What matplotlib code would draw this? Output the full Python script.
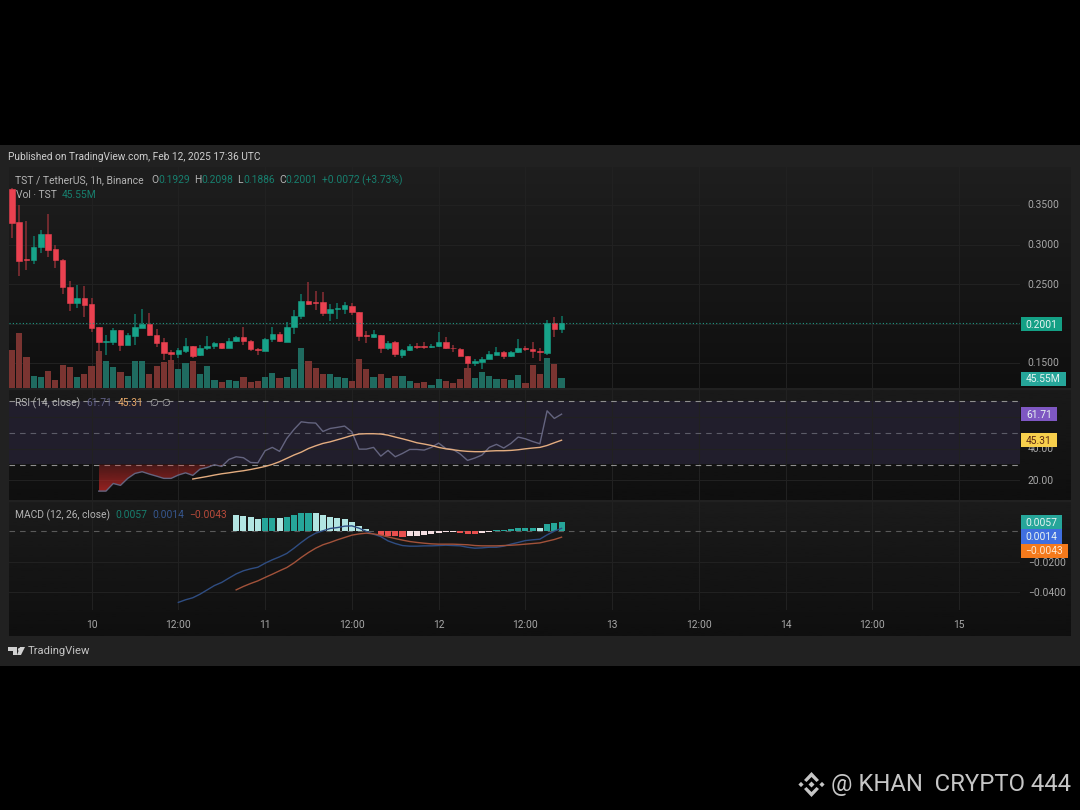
import matplotlib
matplotlib.use('Agg')
import matplotlib.pyplot as plt
import numpy as np
from matplotlib.patches import Rectangle, Polygon

plt.rcParams['font.family'] = ['Roboto', 'DejaVu Sans']

# --- Data (one entry per hourly candle, from Feb 9 13:00) ---
opens = [.3698, .3281, .2817, .2804, .2973, .3133, .2943, .2808, .2466, .2264, .2327, .2243, .1956, .1770, .1770, .1913,
         .1728, .1846, .1947, .1998, .1854, .1762, .1635, .1614, .1656, .1711, .1597, .1686, .1715, .1749, .1694, .1774,
         .1829, .1778, .1677, .1656, .1808, .1863, .1770, .1956, .2099, .2289, .2268, .2268, .2129, .2179, .2188, .2226,
         .2146, .1850, .1825, .1859, .1686, .1762, .1605, .1660, .1715, .1715, .1702, .1715, .1770, .1694, .1681, .1593,
         .1504, .1517, .1555, .1605, .1639, .1589, .1639, .1694, .1677, .1656, .1631, .2011, .1929]
highs = [.3711, .3500, .3298, .3112, .3184, .3382, .2994, .2812, .2538, .2487, .2471, .2319, .1960, .1854, .1947, .1918,
         .1876, .2120, .2184, .2137, .1926, .1812, .1665, .1686, .1821, .1715, .1728, .1846, .1770, .1757, .1812, .1846,
         .1951, .1791, .1694, .1821, .1960, .1897, .2015, .2171, .2369, .2521, .2411, .2395, .2247, .2264, .2276, .2255,
         .2150, .1901, .1918, .1859, .1778, .1774, .1673, .1736, .1749, .1770, .1740, .1888, .1833, .1728, .1690, .1593,
         .1555, .1572, .1656, .1698, .1648, .1652, .1800, .1715, .1762, .1686, .2044, .2087, .2098]
lows = [.3087, .2606, .2677, .2749, .2888, .2846, .2707, .2369, .2162, .2192, .2087, .1888, .1622, .1601, .1728, .1652,
        .1724, .1728, .1939, .1846, .1707, .1538, .1454, .1567, .1622, .1559, .1589, .1665, .1677, .1677, .1686, .1762,
        .1728, .1656, .1601, .1652, .1762, .1762, .1770, .1863, .2057, .2234, .2171, .2095, .2036, .2057, .2116, .2108,
        .1778, .1749, .1812, .1631, .1665, .1576, .1563, .1648, .1673, .1673, .1694, .1698, .1673, .1643, .1589, .1432,
        .1462, .1424, .1546, .1597, .1555, .1572, .1631, .1656, .1559, .1529, .1601, .1833, .1886]
closes = [.3272, .2795, .2804, .2973, .3129, .2935, .2804, .2458, .2264, .2327, .2238, .1943, .1762, .1778, .1918, .1728,
          .1850, .1956, .1998, .1854, .1757, .1631, .1618, .1660, .1711, .1589, .1686, .1715, .1749, .1694, .1774, .1829,
          .1783, .1673, .1660, .1808, .1863, .1778, .1956, .2099, .2289, .2243, .2264, .2129, .2179, .2196, .2230, .2141,
          .1838, .1846, .1863, .1686, .1757, .1610, .1665, .1715, .1707, .1707, .1719, .1766, .1690, .1686, .1593, .1504,
          .1525, .1555, .1614, .1639, .1589, .1639, .1690, .1673, .1652, .1639, .2011, .1930, .2001]
volumes = [172, 251, 141, 56, 49, 76, 35, 106, 94, 52, 62, 102, 169, 122, 94, 71, 55, 125, 125, 65, 102, 120, 129, 88,
           116, 125, 64, 99, 35, 26, 35, 30, 49, 26, 32, 49, 68, 46, 49, 88, 184, 125, 90, 62, 65, 52, 46, 32, 134, 88,
           49, 62, 44, 55, 55, 32, 23, 26, 15, 41, 32, 24, 41, 93, 44, 74, 56, 40, 43, 35, 59, 24, 103, 65, 137, 109, 45.55]

rsi = [13.3, 13.3, 18.1, 16.9, 21.3, 24.4, 25.5, 24.0, 22.7, 21.3, 21.3, 23.4, 24.8, 23.2, 27.1, 28.2, 29.9, 28.8, 33.2,
       34.9, 34.3, 31.3, 31.1, 38.7, 40.8, 38.3, 46.4, 52.1, 56.9, 56.3, 56.1, 50.8, 52.7, 53.4, 54.2, 50.6, 39.7, 39.7,
       40.8, 35.3, 38.9, 34.9, 37.0, 39.5, 39.5, 39.1, 40.8, 43.5, 40.1, 39.5, 36.6, 32.6, 34.1, 36.0, 40.8, 42.7, 40.4,
       43.3, 47.3, 46.2, 44.5, 43.1, 63.8, 59.0, 61.71]
rsi_ma = [20.9, 21.7, 22.5, 23.4, 24.2, 24.8, 25.5, 26.1, 26.9, 27.8, 28.8, 30.1, 31.8, 33.9, 36.0, 37.8, 40.1, 41.8,
          43.3, 44.3, 45.6, 46.9, 48.3, 49.2, 49.4, 49.4, 49.2, 48.5, 47.3, 46.2, 45.0, 43.7, 42.9, 42.0, 40.8, 39.9,
          39.3, 38.7, 38.3, 38.1, 38.1, 38.5, 38.7, 38.7, 38.9, 39.3, 39.9, 40.4, 40.8, 42.0, 43.7, 45.31]

macd = [-.0464, -.0447, -.0434, -.0411, -.0383, -.0355, -.0335, -.0307, -.0280, -.0260, -.0247, -.0237, -.0211, -.0189,
        -.0170, -.0148, -.0114, -.0077, -.0043, -.0017, -.0002, .0013, .0019, .0028, .0030, .0015, -.0006, -.0024,
        -.0039, -.0067, -.0084, -.0097, -.0101, -.0101, -.0099, -.0099, -.0097, -.0095, -.0097, -.0099, -.0108, -.0114,
        -.0112, -.0108, -.0108, -.0101, -.0088, -.0077, -.0065, -.0060, -.0056, -.0028, -.0004, .0014]
signal = [-.0383, -.0361, -.0342, -.0325, -.0303, -.0282, -.0260, -.0239, -.0209, -.0174, -.0142, -.0114, -.0092, -.0077,
          -.0060, -.0045, -.0030, -.0022, -.0017, -.0022, -.0030, -.0041, -.0052, -.0062, -.0071, -.0077, -.0082, -.0086,
          -.0088, -.0088, -.0088, -.0090, -.0092, -.0097, -.0099, -.0099, -.0099, -.0097, -.0095, -.0092, -.0088, -.0084,
          -.0080, -.0069, -.0058, -.0043]
hist = [.0097, .0095, .0086, .0077, .0080, .0082, .0080, .0086, .0097, .0110, .0116, .0112, .0099, .0088, .0080, .0073,
        .0058, .0032, .0011, -.0006, -.0030, -.0034, -.0037, -.0041, -.0037, -.0034, -.0028, -.0022, -.0013, -.0009,
        -.0009, -.0013, -.0022, -.0024, -.0017, -.0009, .0001, .0004, .0011, .0015, .0019, .0019, .0017, .0041, .0049,
        .0057]

RSI_START = 12
RSI_MA_START = 25
MACD_START = 23
SIGNAL_START = 31

date_ticks = [11, 23, 35, 47, 59, 71, 83, 95, 107, 119, 131]
date_labels = ['10', '12:00', '11', '12:00', '12', '12:00', '13', '12:00', '14', '12:00', '15']
price_ticks = [0.15, 0.20, 0.25, 0.30, 0.35]
rsi_ticks = [20, 40, 60]
macd_ticks = [-0.04, -0.02]

# --- Colours ---
UP = '#17a389'
DOWN = '#ea4150'
UP_WICK = '#0f7565'
DOWN_WICK = '#8a2f35'
UP_VOL = '#1f6b60'
DOWN_VOL = '#7a3431'
GRID = '#212121'
TICK = '#a8a8a8'
LEGEND = '#b4b4b4'
TEAL_TXT = '#177f6e'

W, H = 1080, 810
fig = plt.figure(figsize=(W / 100, H / 100), dpi=100, facecolor='black')


def pane(x0, y0, x1, y1, z=2):
    ax = fig.add_axes([x0 / W, 1 - y1 / H, (x1 - x0) / W, (y1 - y0) / H], zorder=z)
    ax.patch.set_alpha(0)
    ax.set_xlim(-0.415, 139.4)
    for s in ax.spines.values():
        s.set_visible(False)
    ax.set_xticks(date_ticks)
    ax.set_xticklabels([])
    ax.tick_params(length=0, labelleft=False)
    ax.grid(True, color=GRID, lw=0.8)
    ax.set_axisbelow(True)
    return ax


# page layers in pixel coordinates
bg = fig.add_axes([0, 0, 1, 1], zorder=0)
bg.set_axis_off()
ov = fig.add_axes([0, 0, 1, 1], zorder=10)
ov.set_axis_off()
ov.patch.set_alpha(0)

bg.add_patch(Rectangle((0, 145), W, 521, color='#212121', lw=0))


def gradient(y0, y1, top, bottom):
    g = np.linspace(top, bottom, 64).reshape(-1, 1)
    bg.imshow(g, extent=(9, 1071, y1, y0), cmap='gray', vmin=0, vmax=255, aspect='auto', zorder=1)


gradient(167, 388, 30, 15)
gradient(390, 500, 26, 15)
gradient(502, 636, 27, 15)
bg.set_xlim(0, W)
bg.set_ylim(H, 0)
ov.set_xlim(0, W)
ov.set_ylim(H, 0)
# purple RSI background band
bg.add_patch(Rectangle((9, 401), 1011, 63, color='#211e2c', lw=0, zorder=2))

# --- Main pane ---
ax = pane(9, 167, 1020, 388)
ax.set_ylim(0.1184, 0.3981)
ax.set_yticks(price_ticks)
x = np.arange(len(closes))
o, h, l, c = map(np.array, (opens, highs, lows, closes))
up = c >= o
ax.vlines(x, l, h, colors=[UP_WICK if u else DOWN_WICK for u in up], lw=1.1, zorder=3)
ax.bar(x, np.abs(c - o), bottom=np.minimum(o, c), width=0.76, color=[UP if u else DOWN for u in up],
       edgecolor=[UP if u else DOWN for u in up], lw=0.4, zorder=4)
ax.axhline(closes[-1], color='#1f9c87', lw=0.8, ls=(0, (1, 2)), zorder=5)

vax = ax.twinx()
vax.set_position(ax.get_position())
vax.set_ylim(0, 1008)
vax.set_axis_off()
vax.bar(x, volumes, width=0.86, color=[UP_VOL if u else DOWN_VOL for u in up], zorder=2)

# --- RSI pane ---
ax_rsi = pane(9, 390, 1020, 500)
ax_rsi.set_ylim(7.7, 76.9)
ax_rsi.set_yticks(rsi_ticks)
rsi_x = RSI_START + np.arange(len(rsi))
rsi_arr = np.array(rsi)
for level in (70, 50, 30):
    ax_rsi.axhline(level, color='#8f8f8f' if level != 50 else '#5c5c68', lw=0.8, ls=(0, (5, 4.5)), zorder=2)
fill = ax_rsi.fill_between(rsi_x, rsi_arr, 30, where=rsi_arr < 30, interpolate=True, facecolor='none', lw=0)
shade = np.zeros((64, 1, 4))
shade[:, 0, 0] = 0.78
shade[:, 0, 1] = 0.16
shade[:, 0, 2] = 0.15
shade[:, 0, 3] = np.linspace(0.75, 0.3, 64)
im = ax_rsi.imshow(shade, extent=(RSI_START, 31, 13, 30), origin='lower', aspect='auto', zorder=2)
im.set_clip_path(fill.get_paths()[0], ax_rsi.transData)
ax_rsi.set_xlim(-0.415, 139.4)
ax_rsi.set_ylim(7.7, 76.9)
ax_rsi.plot(rsi_x, rsi, color='#64647f', lw=1.0, zorder=4)
ax_rsi.plot(RSI_MA_START + np.arange(len(rsi_ma)), rsi_ma, color='#e4ad80', lw=1.0, zorder=5)

# --- MACD pane ---
ax_macd = pane(9, 502, 1020, 610)
ax_macd.set_ylim(-0.0513, 0.0184)
ax_macd.set_yticks(macd_ticks)
ax_macd.axhline(0, color='#5a5a5a', lw=0.8, ls=(0, (5, 4.5)), zorder=2)
hist_colors = []
prev = None
for v in hist:
    rising = prev is not None and v >= prev
    if v >= 0:
        hist_colors.append('#26a69a' if rising else '#b2e5e2')
    else:
        hist_colors.append('#f4dfe2' if rising else '#e8504f')
    prev = v
ax_macd.bar(SIGNAL_START + np.arange(len(hist)), hist, width=0.84, color=hist_colors, zorder=3)
ax_macd.plot(MACD_START + np.arange(len(macd)), macd, color='#2f4d82', lw=1.0, zorder=4)
ax_macd.plot(SIGNAL_START + np.arange(len(signal)), signal, color='#a2523a', lw=1.0, zorder=5)


# --- Texts in pixel coordinates ---
def label(px, py, s, color=LEGEND, size=7.4, **kw):
    ov.text(px, py, s, color=color, fontsize=size, va='center', ha=kw.pop('ha', 'left'), **kw)


def badge(x0, y0, x1, y1, s, bg_color, txt='#e8f4f2'):
    ov.add_patch(Rectangle((x0, y0), x1 - x0, y1 - y0, color=bg_color, lw=0, zorder=3))
    ov.text((x0 + x1) / 2, (y0 + y1) / 2 + 0.5, s, color=txt, fontsize=7.4, va='center', ha='center', zorder=4)


label(8, 156.5, 'Published on TradingView.com, Feb 12, 2025 17:36 UTC', color='#cfcfcf', size=7.3)

label(15, 180, 'TST / TetherUS, 1h, Binance', size=7.5)
for lx, name, vx, val in [(151, 'O', 158, '0.1929'), (194, 'H', 201, '0.2098'),
                          (237, 'L', 243, '0.1886'), (279, 'C', 285, '0.2001')]:
    label(lx, 180, name)
    label(vx, 180, val, color=TEAL_TXT)
label(322, 180, '+0.0072 (+3.73%)', color=TEAL_TXT)
label(16, 195, 'Vol · TST')
label(62, 195, '45.55M', color=TEAL_TXT)

label(15, 403, 'RSI (14, close)')
label(86, 403, '61.71', color='#5f5f86')
label(118, 403, '45.31', color='#e6a868')
label(149, 403, '∅')
label(161, 403, '∅')

label(15, 515.5, 'MACD (12, 26, close)')
label(115, 515.5, '0.0057', color=TEAL_TXT)
label(152, 515.5, '0.0014', color='#36578f')
label(189, 515.5, '\u22120.0043', color='#b84a3a')

for v, py in zip(price_ticks, (363.5, 324, 284.5, 245.5, 205.5)):
    if v != 0.20:
        label(1027, py, f'{v:.4f}', color=TICK)
label(1028, 449.5, '40.00', color=TICK)
label(1028, 480.5, '20.00', color=TICK)
label(1028, 562.5, '\u22120.0200', color=TICK)
label(1028, 592.5, '\u22120.0400', color=TICK)

badge(1021, 317, 1062, 331, '0.2001', '#14a085')
badge(1021, 372, 1066, 386, '45.55M', '#26a69a')
badge(1021, 407, 1057, 421, '61.71', '#7e57c2')
badge(1021, 433, 1057, 447, '45.31', '#f7cf4c', txt='#5c2a14')
badge(1021, 515, 1062, 529, '0.0057', '#26a69a')
badge(1021, 529, 1062, 544, '0.0014', '#3f6fe0')
badge(1021, 544, 1068, 558, '\u22120.0043', '#f57a1c', txt='#ffe8d0')

for t, s in zip(date_ticks, date_labels):
    label(12 + 7.23 * t, 625, s, color=TICK, ha='center')

# TradingView footer and logo
ov.add_patch(Polygon([(8, 647), (17, 647), (17, 655), (13, 655), (13, 651), (8, 651)], color='#d0d0d0', lw=0))
ov.add_patch(Polygon([(20, 647), (25, 647), (21, 655), (17, 655)], color='#d0d0d0', lw=0))
ov.scatter([18.5], [648.5], s=5, color='#d0d0d0', lw=0)
label(28, 651.5, 'TradingView', color='#c4c4c4', size=8.1)

# watermark with the diamond mark
WM = '#c6c6c6'
for cx, cy, r in [(801, 784.5, 2.6), (822, 784.5, 2.6), (811.5, 784.5, 3)]:
    ov.add_patch(Polygon([(cx - r, cy), (cx, cy - r), (cx + r, cy), (cx, cy + r)], color=WM, lw=0))
ov.add_patch(Polygon([(804, 789), (806.5, 787), (811.5, 792), (816.5, 787), (819, 789), (811.5, 797)], color=WM, lw=0))
ov.add_patch(Polygon([(804, 780), (811.5, 772), (819, 780), (816.5, 782), (811.5, 777), (806.5, 782)], color=WM, lw=0))
ov.text(831, 784, '@ KHAN  CRYPTO 444', color=WM, fontsize=17.2, va='center', ha='left')

fig.savefig('out.png', dpi=100, facecolor='black')
